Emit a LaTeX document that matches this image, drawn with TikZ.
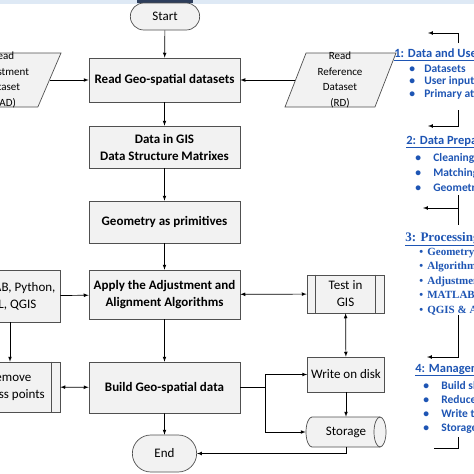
\documentclass[tikz,border=0pt]{standalone}
\usepackage{fontspec}
\setmainfont{Carlito}
\newfontfamily\timesfont{Liberation Serif}
\usetikzlibrary{shapes.geometric,shapes.misc}
\definecolor{boxfill}{RGB}{242,242,242}
\definecolor{boxline}{RGB}{80,80,80}
\definecolor{stepblue}{RGB}{30,85,180}
\definecolor{bandblue}{RGB}{222,233,245}
\definecolor{topdark}{RGB}{45,62,92}
\tikzset{
	procbox/.style={rectangle, draw=boxline, fill=boxfill, minimum width=151pt,
		align=center, inner sep=2pt, font=\fontsize{13}{17}\selectfont\bfseries},
	sidebox/.style={rectangle, draw=boxline, fill=boxfill, align=center,
		inner sep=2pt, font=\fontsize{13}{17}\selectfont},
	termbox/.style={rounded rectangle, draw=boxline, fill=boxfill,
		font=\fontsize{13}{16}\selectfont},
	datapar/.style={trapezium, trapezium left angle=73, trapezium right angle=107,
		trapezium stretches=true, draw=boxline, fill=boxfill, minimum width=111pt,
		minimum height=54pt, inner sep=2pt},
	partext/.style={align=center, inner sep=0pt, font=\fontsize{11}{15.5}\selectfont},
	store/.style={inner sep=0pt, minimum width=68pt, minimum height=30pt,
		font=\fontsize{13}{16}\selectfont},
	head/.style={anchor=base west, text=stepblue, inner sep=0pt,
		font=\fontsize{12.5}{15}\selectfont\bfseries},
	item/.style={anchor=base west, text=stepblue, inner sep=0pt,
		font=\fontsize{11.5}{14}\selectfont\bfseries},
}
\begin{document}
\begin{tikzpicture}[x=1pt, y=-1pt, >=latex, line width=0.7pt]
	\useasboundingbox (0,0) rectangle (474,474);
	\clip (0,0) rectangle (474,474);
	\fill[white] (0,0) rectangle (474,474);
	\fill[bandblue] (0,0) rectangle (474,4);
	\fill[topdark] (137,0) rectangle (193,3);
	% main column
	\node[termbox, minimum width=76pt, minimum height=27pt] (start) at (165,16.5) {Start};
	\node[procbox, minimum height=44pt] (readgeo) at (164.5,80) {Read Geo-spatial datasets};
	\node[procbox, minimum height=42pt] (datagis) at (164.5,147) {Data in GIS\\Data Structure Matrixes};
	\node[procbox, minimum height=42pt] (geom) at (164.5,222) {Geometry as primitives};
	\node[procbox, minimum height=49pt] (apply) at (164.5,294.5) {Apply the Adjustment and\\Alignment Algorithms};
	\node[procbox, minimum height=51pt] (build) at (164.5,387.5) {Build Geo-spatial data};
	\node[termbox, minimum width=71pt, minimum height=37pt] (end) at (164.5,453.5) {End};
	% input datasets
	\node[datapar, minimum width=122pt] (rad) at (0,80) {};
	\node[partext] (radtext) at (3,80) {Read\\Adjustment\\Dataset\\(RAD)};
	\node[datapar] (rd) at (340.5,80) {};
	\node[partext] (rdtext) at (340,80) {Read\\Reference\\Dataset\\(RD)};
	% side boxes
	\node[sidebox, minimum width=100pt, minimum height=52pt] (tools) at (10,296) {MATLAB, Python,\\SQL, QGIS};
	\node[sidebox, minimum width=100pt, minimum height=50pt] (remove) at (10,387) {Remove\\Excess points};
	\node[sidebox, minimum width=77pt, minimum height=38pt] (test) at (345.5,294) {Test in\\GIS};
	\node[sidebox, minimum width=77pt, minimum height=35pt] (write) at (346,374.5) {Write on disk};
	\foreach \n in {test, remove}
	{
		\draw[boxline] ([xshift=9pt]\n.north west) -- ([xshift=9pt]\n.south west);
		\draw[boxline] ([xshift=-9pt]\n.north east) -- ([xshift=-9pt]\n.south east);
	}
	% storage drum
	\path[draw=boxline, fill=boxfill] (312,417) -- (380,417)
		arc[start angle=90, end angle=-90, x radius=6pt, y radius=15pt] -- (312,447)
		arc[start angle=270, end angle=90, x radius=6pt, y radius=15pt] -- cycle;
	\draw[boxline] (380,417) arc[start angle=90, end angle=270, x radius=6pt, y radius=15pt];
	\node[store] (storage) at (346,432) {Storage};
	% connectors
	\draw[->] (start) -- (readgeo);
	\draw[->] (rad.east) -- (readgeo.west);
	\draw[->] (rd.west) -- (readgeo.east);
	\foreach \a/\b in {readgeo/datagis, datagis/geom, geom/apply, apply/build, build/end}
		\draw[->] (\a) -- (\b);
	\draw[->] (tools) -- (apply);
	\draw[->] (tools) -- (remove);
	\draw[<->] (remove) -- (build);
	\draw[<->] (apply) -- (test);
	\draw[<->] (test) -- (write);
	\coordinate (split) at (265,387.5);
	\draw (build.east) -- (split);
	\draw[->] (split) |- (write.west);
	\draw[->] (split) |- ([xshift=-6pt]storage.west);
	\draw[->] (write) -- (storage);
	\draw[->] (storage.south) |- (end.east);
	% outline of the steps
	\node[head] (h1) at (394,57) {\underline{1: Data and User Input}};
	\node[head] (h2) at (406,144) {\underline{2: Data Preparation}};
	\node[head, font=\fontsize{13}{15}\selectfont\timesfont\bfseries] (h3) at (405,241) {\underline{3: Processing}};
	\node[head] (h4) at (415,372) {\underline{4: Management}};
	\foreach \t [count=\i] in {Datasets, User input, Primary attributes}
	{
		\node[item] at (409,{72+12.5*(\i-1)}) {\textbullet};
		\node[item] at (424,{72+12.5*(\i-1)}) {\t};
	}
	\foreach \t [count=\i] in {Cleaning, Matching, Geometry}
	{
		\node[item] at (415,{161+15*(\i-1)}) {\textbullet};
		\node[item] at (433,{161+15*(\i-1)}) {\t};
	}
	\foreach \t [count=\i] in {Geometry, Algorithms, Adjustment, MATLAB, QGIS \& ArcGIS}
	{
		\node[item, font=\fontsize{11}{14}\selectfont\timesfont\bfseries] at (419,{255+14.5*(\i-1)}) {\textbullet};
		\node[item, font=\fontsize{11}{14}\selectfont\timesfont\bfseries] at (427,{255+14.5*(\i-1)}) {\t};
	}
	\foreach \t [count=\i] in {Build shapefile, Reduce, Write to disk, Storage}
	{
		\node[item] at (423,{389+14*(\i-1)}) {\textbullet};
		\node[item] at (441,{389+14*(\i-1)}) {\t};
	}
	% step arrows
	\coordinate (s1a) at (458,43);
	\coordinate (s1b) at (428,33);
	\coordinate (s2a) at (458,110);
	\coordinate (s2b) at (428,126);
	\coordinate (s3a) at (458,195);
	\coordinate (s3b) at (458,225);
	\coordinate (s3m) at (458,208);
	\coordinate (s3c) at (423,208);
	\coordinate (s4a) at (458,315);
	\coordinate (s4b) at (427,357);
	\coordinate (s5a) at (458,437);
	\coordinate (s5b) at (434,448);
	\draw[->] (s1a) |- (s1b);
	\draw[->] (s2a) |- (s2b);
	\draw (s3a) -- (s3b);
	\draw[->] (s3m) -- (s3c);
	\draw[->] (s4a) |- (s4b);
	\draw (s5a) |- (s5b);
\end{tikzpicture}
\end{document}
